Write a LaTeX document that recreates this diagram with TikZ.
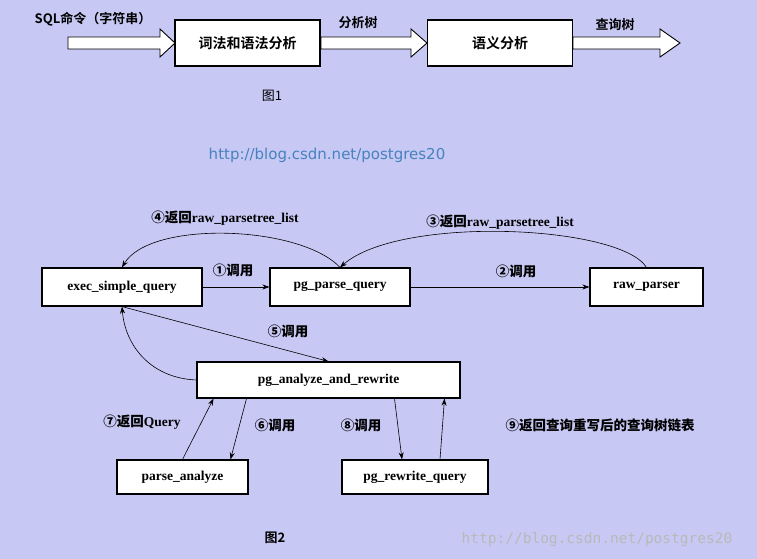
\documentclass[tikz,border=0pt]{standalone}
\usepackage{fontspec}
\setmainfont{Liberation Serif}
\setmonofont{DejaVu Sans Mono}
\setsansfont{DejaVu Sans}
\newfontfamily\cj{Noto Sans CJK SC}
\newfontfamily\cjb{Noto Sans CJK SC Bold}
\usetikzlibrary{arrows.meta}
\definecolor{bg}{RGB}{200,200,245}
\definecolor{urlc}{RGB}{70,130,190}
\begin{document}
\begin{tikzpicture}[x=1pt,y=-1pt,
  box/.style={draw,fill=white,line width=1.2pt,minimum height=38pt,font=\bfseries\fontsize{13.5}{15}\selectfont,inner sep=0pt},
  bigbox/.style={draw,fill=white,line width=1.6pt,minimum height=46pt,minimum width=145pt,font=\cjb\fontsize{14}{16}\selectfont},
  lbl/.style={font=\bfseries\fontsize{13.5}{15}\selectfont,inner sep=1pt},
  conn/.style={-{Stealth[length=7pt,width=5pt]},line width=0.6pt},
  hollow/.style={draw,fill=white,line width=0.9pt}]
\fill[bg] (0,0) rectangle (757,559);
\useasboundingbox (0,0) rectangle (757,559);
% figure 1
\node[bigbox] (b1) at (247.5,43) {词法和语法分析};
\node[bigbox] (b2) at (500,43) {语义分析};
\draw[hollow] (68,37)--(160,37)--(160,29)--(175,43)--(160,57)--(160,49)--(68,49)--cycle;
\draw[hollow] (321,37)--(411,37)--(411,29)--(427,43)--(411,57)--(411,49)--(321,49)--cycle;
\draw[hollow] (573,37)--(660,37)--(660,29)--(680,43)--(660,57)--(660,49)--(573,49)--cycle;
\node[font=\cjb\fontsize{13}{15}\selectfont] (t1) at (93,19) {SQL命令（字符串）};
\node[font=\cjb\fontsize{13}{15}\selectfont] (t2) at (358,23) {分析树};
\node[font=\cjb\fontsize{13}{15}\selectfont] (t3) at (615,25) {查询树};
\node[font=\cj\fontsize{13}{15}\selectfont] (f1) at (272,96) {图1};
\node[font=\sffamily\fontsize{15}{18}\selectfont,text=urlc] (url) at (327,155) {http://blog.csdn.net/postgres20};
% figure 2
\node[box,minimum width=160pt] (esq) at (122,287) {exec\_simple\_query};
\node[box,minimum width=140pt] (ppq) at (340,287) {pg\_parse\_query};
\node[box,minimum width=113pt] (rp) at (646.5,287) {raw\_parser};
\node[box,minimum width=263pt,minimum height=36pt] (par) at (328.5,380) {pg\_analyze\_and\_rewrite};
\node[box,minimum width=131pt,minimum height=34pt] (pa) at (182.5,477) {parse\_analyze};
\node[box,minimum width=146pt,minimum height=34pt] (prq) at (415,477) {pg\_rewrite\_query};
\draw[conn] (esq.east) -- (ppq.west);
\draw[conn] (ppq.east) -- (rp.west);
\draw[conn] (rp.north) .. controls (620,225) and (400,215) .. (ppq.north);
\draw[conn] (ppq.north) .. controls (300,225) and (150,220) .. (esq.north);
\draw[conn] (esq.south) -- (par.north);
\draw[conn] (par.west) .. controls (150,378) and (125,345) .. (esq.south);
\draw[conn] (pa.north) -- ([xshift=-115pt]par.south);
\draw[conn] ([xshift=-82pt]par.south) -- ([xshift=48pt]pa.north);
\draw[conn] ([xshift=66pt]par.south) -- ([xshift=-13pt]prq.north);
\draw[conn] ([xshift=25pt]prq.north) -- ([xshift=116pt]par.south);
\node[lbl] (l4) at (225,218) {{\cjb ④返回}raw\_parsetree\_list};
\node[lbl] (l3) at (500,222) {{\cjb ③返回}raw\_parsetree\_list};
\node[lbl] (l1) at (233,270) {\cjb ①调用};
\node[lbl] (l2) at (516,271) {\cjb ②调用};
\node[lbl] (l5) at (288,331) {\cjb ⑤调用};
\node[lbl] (l7) at (142,422) {{\cjb ⑦返回}Query};
\node[lbl] (l6) at (275,425) {\cjb ⑥调用};
\node[lbl] (l8) at (361,425) {\cjb ⑧调用};
\node[lbl] (l9) at (600,425) {\cjb ⑨返回查询重写后的查询树链表};
\node[font=\cjb\fontsize{13}{15}\selectfont] (f2) at (275,538) {图2};
\node[font=\ttfamily\fontsize{14.5}{16}\selectfont,text=white!45!gray] (wm) at (597,540) {http://blog.csdn.net/postgres20};
\end{tikzpicture}
\end{document}
